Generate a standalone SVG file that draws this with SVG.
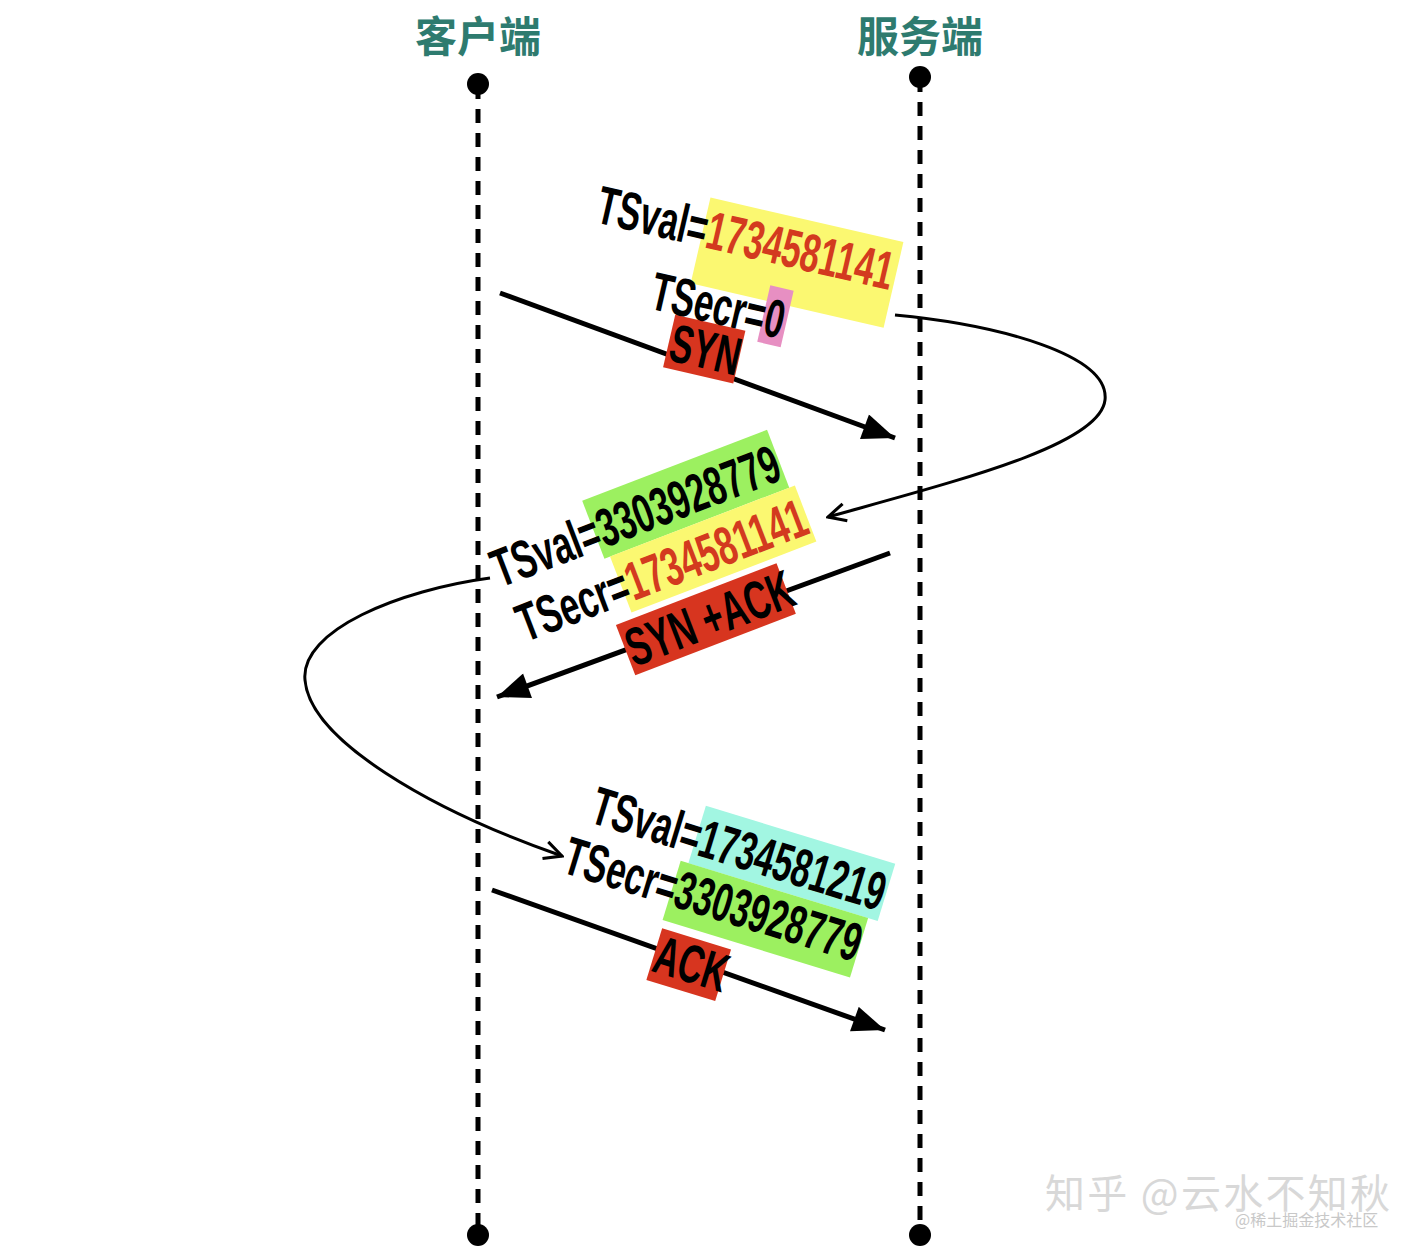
<svg xmlns="http://www.w3.org/2000/svg" width="1426" height="1254" viewBox="0 0 1426 1254">
<style>
.t{font-family:"Liberation Sans",Arial,sans-serif;font-weight:bold;font-size:54px;fill:#000}
.r{fill:#d33a1f}
.life{stroke:#000;stroke-width:5;stroke-dasharray:14 10;fill:none}
.msg{stroke:#000;stroke-width:5;fill:none}
.cur{stroke:#000;stroke-width:3;fill:none}
.title{font-family:"Noto Sans CJK SC",sans-serif;font-weight:bold;font-size:42px;fill:#2e7b6f}
</style>
<defs>
<marker id="big" viewBox="0 0 10 8" refX="10" refY="4" markerWidth="34" markerHeight="26" orient="auto" markerUnits="userSpaceOnUse"><path d="M0,0 L10,4 L0,8 z" fill="#000"/></marker>
<marker id="open" viewBox="0 0 10 10" refX="9" refY="5" markerWidth="22" markerHeight="22" orient="auto" markerUnits="userSpaceOnUse"><path d="M1,1 L9,5 L1,9" fill="none" stroke="#000" stroke-width="1.4"/></marker>
</defs>
<rect width="1426" height="1254" fill="#fff"/>
<g id="client">
<text class="title" x="478" y="52" text-anchor="middle">客户端</text>
<line class="life" x1="478" y1="85" x2="478" y2="1235"/>
<circle cx="478" cy="84" r="11"/><circle cx="478" cy="1235" r="11"/>
</g>
<g id="server">
<text class="title" x="920" y="52" text-anchor="middle">服务端</text>
<line class="life" x1="920" y1="78" x2="920" y2="1235"/>
<circle cx="920" cy="77" r="11"/><circle cx="920" cy="1235" r="11"/>
</g>
<g id="connectors">
<line class="msg" x1="500" y1="293" x2="895" y2="438" marker-end="url(#big)"/>
<line class="msg" x1="890" y1="553" x2="497" y2="697" marker-end="url(#big)"/>
<line class="msg" x1="492" y1="890" x2="885" y2="1030" marker-end="url(#big)"/>
<path class="cur" d="M895,315 C1000,325 1110,355 1105,400 C1100,445 960,480 828,517" marker-end="url(#open)"/>
<path class="cur" d="M490,578 C400,590 300,630 305,680 C310,740 430,810 562,856" marker-end="url(#open)"/>
</g>
<g id="syn" transform="translate(594,222) rotate(13)">
<rect x="108" y="-50" width="198" height="88" fill="#fbf871"/>
<rect x="186" y="22" width="24" height="58" fill="#e78fc2"/>
<rect x="100" y="72" width="72" height="54" fill="#d7351f"/>
<text class="t" transform="scale(0.64,1)">TSval=<tspan class="r">1734581141</tspan></text>
<text class="t" transform="translate(72,72) scale(0.64,1)">TSecr=0</text>
<text class="t" transform="translate(102,118) scale(0.64,1)">SYN</text>
</g>
<g id="synack" transform="translate(500,588) rotate(-21)">
<rect x="108" y="-52" width="198" height="62" fill="#9cf060"/>
<rect x="114" y="10" width="198" height="60" fill="#fbf871"/>
<rect x="95" y="76" width="172" height="54" fill="#d7351f"/>
<text class="t" transform="scale(0.64,1)">TSval=3303928779</text>
<text class="t" transform="translate(4,60) scale(0.64,1)">TSecr=<tspan class="r">1734581141</tspan></text>
<text class="t" transform="translate(97,122) scale(0.64,1)">SYN +ACK</text>
</g>
<g id="ack" transform="translate(588,822) rotate(17)">
<rect x="108" y="-50" width="198" height="60" fill="#a2f6e2"/>
<rect x="100" y="10" width="196" height="62" fill="#9cf060"/>
<rect x="102" y="80" width="72" height="54" fill="#d7351f"/>
<text class="t" transform="scale(0.64,1)">TSval=1734581219</text>
<text class="t" transform="translate(-12,56) scale(0.64,1)">TSecr=3303928779</text>
<text class="t" transform="translate(103,124) scale(0.64,1)">ACK</text>
</g>
<g id="watermark" font-family="Noto Sans CJK SC,sans-serif">
<text x="1045" y="1208" font-size="40" fill="#d8d8d8" textLength="345">知乎 @云水不知秋</text>
<text x="1235" y="1226" font-size="16" fill="#c8c8c8">@稀土掘金技术社区</text>
</g>
</svg>
